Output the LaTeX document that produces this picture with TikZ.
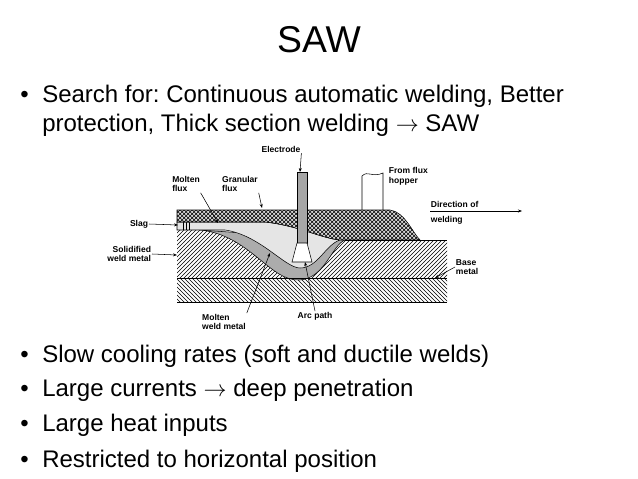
\documentclass[tikz,border=0pt]{standalone}
\usepackage{fontspec}
\setmainfont{Liberation Sans}
\usetikzlibrary{patterns,arrows.meta}
\frenchspacing

\begin{document}
\begin{tikzpicture}[x=0.75pt,y=-0.75pt,
            bullet/.style={anchor=base west,font=\fontsize{18}{20}\selectfont,inner sep=0pt},
            lbl/.style={font=\bfseries\fontsize{6.4}{7.2}\selectfont,align=left,inner sep=0.5pt},
            ptr/.style={-{Stealth[length=3pt]},thin},
            every node/.style={text=black}]
    \useasboundingbox (0,0) rectangle (638,478);
    % title and bullets
    \node (title) at (319,40) {\fontsize{28}{30}\selectfont SAW};
    \node[bullet] (b1) at (42,102) {Search for: Continuous automatic welding, Better};
    \node[bullet] (b1b) at (42,131) {protection, Thick section welding $\rightarrow$ SAW};
    \node[bullet] (b2) at (42,362) {Slow cooling rates (soft and ductile welds)};
    \node[bullet] (b3) at (42,396) {Large currents $\rightarrow$ deep penetration};
    \node[bullet] (b4) at (42,431) {Large heat inputs};
    \node[bullet] (b5) at (42,467) {Restricted to horizontal position};
    \foreach \y in {102,362,396,431,467}
        \node[bullet] at (20,\y) {\textbullet};
    % base metal
    \fill[pattern=north west lines] (177,278) rectangle (447,302);
    \fill[pattern=north east lines] (177,230) -- (200,230) -- (345,240) -- (447,240) -- (447,278) -- (177,278) -- cycle;
    % molten weld metal
    \filldraw[fill=gray!65,thin] (200,230) .. controls (250,235) and (270,282) .. (300,280)
        .. controls (325,278) and (332,245) .. (345,240) -- cycle;
    % molten flux / slag
    \filldraw[fill=gray!20,thin] (177,222) -- (265,222) .. controls (300,226) and (320,238) .. (340,240)
        .. controls (325,245) and (318,268) .. (300,268) .. controls (285,268) and (260,235) .. (225,230)
        -- (177,230) -- cycle;
    \foreach \x in {183,186,189}
        \draw[thin] (\x,222) -- (\x,230);
    % granular flux
    \fill[gray!30] (177,210) -- (390,210) .. controls (405,212) and (412,232) .. (420,240)
        -- (340,240) .. controls (320,238) and (300,226) .. (265,222) -- (177,222) -- cycle;
    \filldraw[pattern=crosshatch,thin] (177,210) -- (390,210) .. controls (405,212) and (412,232) .. (420,240)
        -- (340,240) .. controls (320,238) and (300,226) .. (265,222) -- (177,222) -- cycle;
    \draw[thin] (177,278) -- (447,278);
    \draw[semithick] (177,302) -- (447,302) (345,240) -- (447,240);
    % electrode and arc
    \filldraw[fill=gray!70,thin] (297,172) rectangle (307,243);
    \filldraw[fill=white,thin] (297,243) -- (307,243) -- (312,262) -- (292,262) -- cycle;
    % hopper
    \draw[thin] (362,210) -- (362,176) .. controls (368,170) and (372,178) .. (383,173) -- (383,210);
    % labels
    \node[lbl] (electrode) at (281,149) {Electrode};
    \node[lbl] (mflux) at (186,184) {Molten\\flux};
    \node[lbl] (gflux) at (240,184) {Granular\\flux};
    \node[lbl,anchor=west] (hopper) at (388,176) {From flux\\hopper};
    \node[lbl,anchor=west] (dir) at (430,204) {Direction of};
    \node[lbl,anchor=west] (welding) at (430,220) {welding};
    \node[lbl,anchor=east] (slag) at (149,224) {Slag};
    \node[lbl,anchor=east,align=right] (solid) at (152,254) {Solidified\\weld metal};
    \node[lbl,anchor=west] (base) at (455,267) {Base\\metal};
    \node[lbl] (mweld) at (224,322) {Molten\\weld metal};
    \node[lbl] (arc) at (315,316) {Arc path};
    \coordinate (dirend) at (522,211);
    \draw[ptr] (430,211) -- (dirend);
    \draw[ptr] (electrode.south east) -- (300,172);
    \draw[ptr] (mflux.south east) -- (218,223);
    \draw[ptr] (gflux.south east) -- (262,208);
    \draw[ptr] (slag.east) -- (178,225);
    \draw[ptr] (solid.east) -- (177,255);
    \draw[ptr] (base.west) -- (435,278);
    \draw[ptr] (mweld.north east) -- (270,253);
    \draw[ptr] (arc.north) -- (305,262);
\end{tikzpicture}
\end{document}
